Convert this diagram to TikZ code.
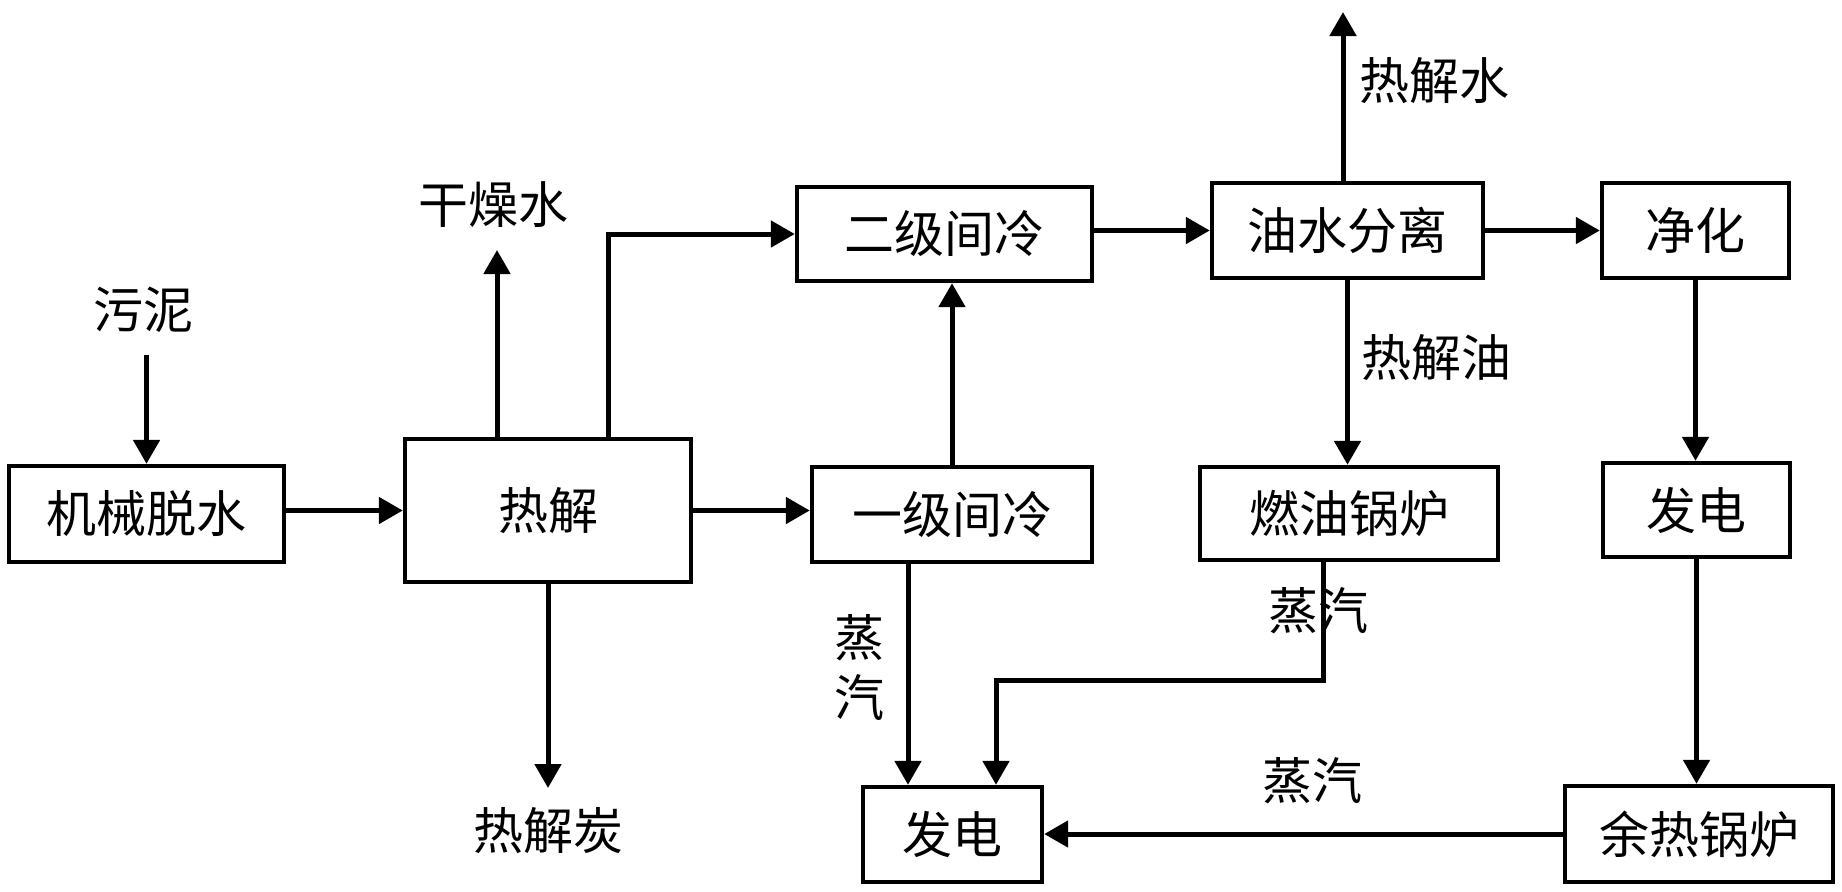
\documentclass[tikz,border=0pt]{standalone}
\usepackage{fontspec}
\setmainfont{Noto Sans CJK SC}
\usetikzlibrary{arrows.meta}
\begin{document}
\begin{tikzpicture}[x=0.5pt,y=-0.5pt,
  box/.style={draw,line width=2.2pt,inner sep=0pt,font=\fontsize{25}{30}\selectfont},
  lbl/.style={inner sep=0pt,font=\fontsize{25}{30}\selectfont},
  arr/.style={line width=2.5pt,-{Triangle[length=12pt,width=13pt]}}]
\useasboundingbox (0,0) rectangle (1842,891);

% boxes
\node[box,minimum width=137.5pt,minimum height=48pt] (jxts) at (146.5,514) {机械脱水};
\node[box,minimum width=143pt,minimum height=71.5pt] (rj) at (548,510.5) {热解};
\node[box,minimum width=140pt,minimum height=47.5pt] (yjjl) at (952,514.5) {一级间冷};
\node[box,minimum width=147.5pt,minimum height=47pt] (ejjl) at (944.5,234) {二级间冷};
\node[box,minimum width=135.5pt,minimum height=47.5pt] (ysfl) at (1347.5,230.5) {油水分离};
\node[box,minimum width=93.5pt,minimum height=47.5pt] (jh) at (1695.5,230.5) {净化};
\node[box,minimum width=149pt,minimum height=46.5pt] (rygl) at (1349,513.5) {燃油锅炉};
\node[box,minimum width=93.5pt,minimum height=47pt] (fda) at (1696.5,510) {发电};
\node[box,minimum width=134pt,minimum height=48pt] (yrgl) at (1699,834) {余热锅炉};
\node[box,minimum width=89.5pt,minimum height=47.5pt] (fdb) at (952.5,834.5) {发电};

% labels
\node[lbl] (wn) at (143,310) {污泥};
\node[lbl] (gzs) at (493,205) {干燥水};
\node[lbl] (rjt) at (548,831) {热解炭};
\node[lbl] (rjs) at (1434,81) {热解水};
\node[lbl] (rjy) at (1436,358) {热解油};
\node[lbl,align=center] (zqa) at (859,668) {\baselineskip=31pt 蒸\\汽};
\node[lbl] (zqb) at (1318,611) {蒸汽};
\node[lbl] (zqc) at (1312,781) {蒸汽};

% free ends
\coordinate (wnend) at (146.5,355);
\coordinate (gzsend) at (497,250);
\coordinate (rjtend) at (548,788);
\coordinate (rjsend) at (1343,12);

% connectors
\draw[arr] (wnend) -- (jxts.north);
\draw[arr] (jxts.east |- rj.center) -- (rj.west);
\draw[arr] (gzsend |- rj.north) -- (gzsend);
\draw[arr] ([xshift=30pt]rj.north) |- (ejjl.west);
\draw[arr] (rj.east) -- (rj.east -| yjjl.west);
\draw[arr] (rj.south) -- (rjtend);
\draw[arr] (yjjl.north) -- (yjjl.north |- ejjl.south);
\draw[arr] (ysfl.west -| ejjl.east) -- (ysfl.west);
\draw[arr] (rjsend |- ysfl.north) -- (rjsend);
\draw[arr] (ysfl.east) -- (jh.west);
\draw[arr] (ysfl.south) -- (ysfl.south |- rygl.north);
\draw[arr] (jh.south) -- (jh.south |- fda.north);
\draw[arr] (fda.south) -- (fda.south |- yrgl.north);
\draw[arr] (yrgl.west) -- (yrgl.west -| fdb.east);
\draw[arr] ([xshift=-22pt]yjjl.south) -- ([xshift=-22pt]yjjl.south |- fdb.north);
\draw[arr] ([xshift=-13pt]rygl.south) -- ++(0,-59pt) -| ([xshift=21.75pt]fdb.north);
\end{tikzpicture}
\end{document}
